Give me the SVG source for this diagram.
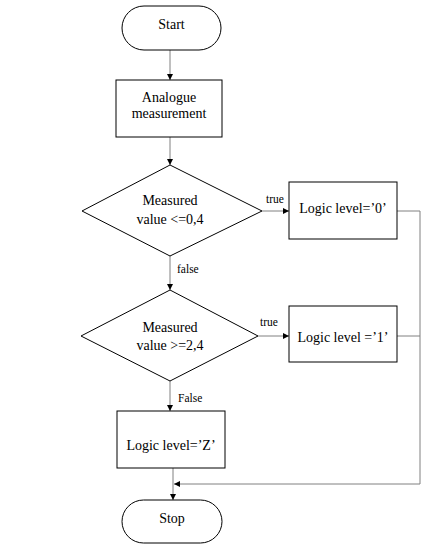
<svg xmlns="http://www.w3.org/2000/svg" width="437" height="554" viewBox="0 0 437 554">
<style>
.shape{fill:#fff;stroke:#000;stroke-width:1}
.t{font-size:14px;fill:#000;text-anchor:middle}
.lbl{font-size:11.5px;fill:#000}
.c{fill:none;stroke:#808080;stroke-width:1}
</style>
<defs>
<marker id="ah" markerUnits="userSpaceOnUse" markerWidth="7" markerHeight="6" refX="6" refY="3" orient="auto">
<path d="M0,0 L6,3 L0,6 z" fill="#000"/>
</marker>
</defs>
<rect width="437" height="554" fill="#fff"/>
<g font-family="Liberation Serif, DejaVu Serif, serif">
<g id="connectors">
<line class="c" x1="170" y1="50" x2="170" y2="80" marker-end="url(#ah)"/>
<line class="c" x1="170" y1="137" x2="170" y2="165" marker-end="url(#ah)"/>
<line class="c" x1="262" y1="211" x2="289" y2="211" marker-end="url(#ah)"/>
<line class="c" x1="170" y1="256" x2="170" y2="290" marker-end="url(#ah)"/>
<line class="c" x1="258" y1="336" x2="289" y2="336" marker-end="url(#ah)"/>
<line class="c" x1="170" y1="381" x2="170" y2="411" marker-end="url(#ah)"/>
<line class="c" x1="173" y1="468" x2="173" y2="500" marker-end="url(#ah)"/>
<polyline class="c" points="397,211 420,211 420,484 174,484" marker-end="url(#ah)"/>
<line class="c" x1="397" y1="336" x2="420" y2="336"/>
<text class="lbl" x="266" y="203">true</text>
<text class="lbl" x="260" y="326">true</text>
<text class="lbl" x="177" y="273">false</text>
<text class="lbl" x="178" y="402">False</text>
</g>
<g id="start">
<rect class="shape" x="122" y="6" width="99" height="44" rx="22" ry="22"/>
<text class="t" x="171.5" y="29">Start</text>
</g>
<g id="analogue">
<rect class="shape" x="116" y="80" width="106" height="57"/>
<text class="t" x="169" y="102">Analogue</text>
<text class="t" x="169" y="118">measurement</text>
</g>
<g id="decision1">
<polygon class="shape" points="170,165 262,211 170,256 82,211"/>
<text class="t" x="170" y="205">Measured</text>
<text class="t" x="170" y="224">value &lt;=0,4</text>
</g>
<g id="logic0">
<rect class="shape" x="289" y="182" width="108" height="57"/>
<text class="t" x="343" y="213">Logic level=’0’</text>
</g>
<g id="decision2">
<polygon class="shape" points="170,290 258,336 170,381 81,336"/>
<text class="t" x="170" y="332">Measured</text>
<text class="t" x="170" y="350">value &gt;=2,4</text>
</g>
<g id="logic1">
<rect class="shape" x="289" y="306" width="108" height="56"/>
<text class="t" x="343" y="342">Logic level =’1’</text>
</g>
<g id="logicZ">
<rect class="shape" x="117" y="411" width="108" height="57"/>
<text class="t" x="171" y="450">Logic level=’Z’</text>
</g>
<g id="stop">
<rect class="shape" x="122" y="500" width="100" height="43" rx="21.5" ry="21.5"/>
<text class="t" x="172" y="523">Stop</text>
</g>
</g>
</svg>
